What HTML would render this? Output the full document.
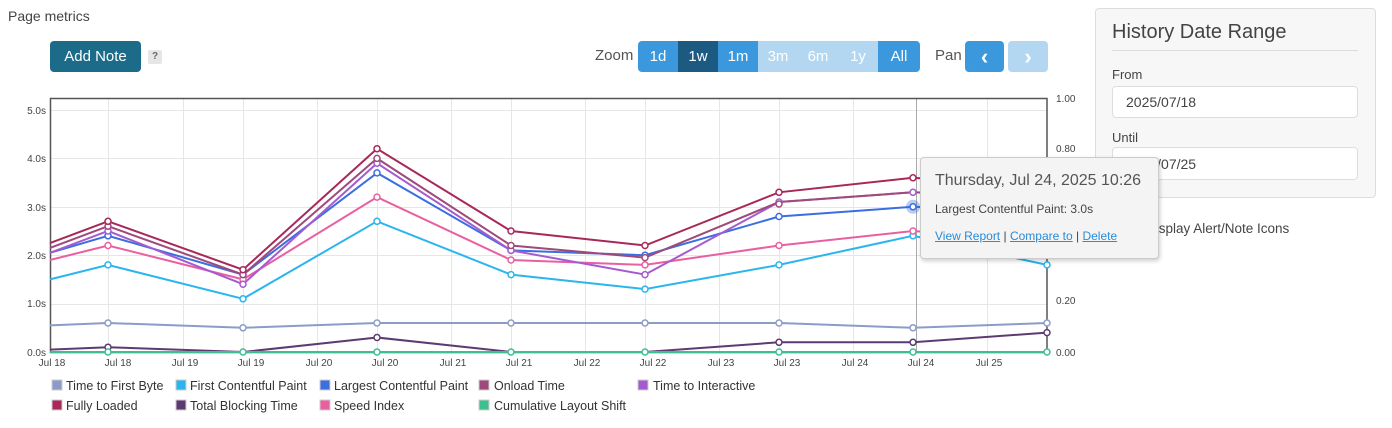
<!DOCTYPE html>
<html><head><meta charset="utf-8"><style>
body{margin:0;width:1392px;height:428px;background:#fff;font-family:"Liberation Sans",sans-serif;position:relative;overflow:hidden;color:#333}
.a{position:absolute}
.btn{position:absolute;top:41px;height:31px;line-height:31px;text-align:center;color:#fff;font-size:15px}
</style></head><body>
<div class="a" style="left:8px;top:8px;font-size:14px;color:#444">Page metrics</div>
<div class="a" style="left:50px;top:41px;width:91px;height:31px;background:#1c6b88;border-radius:4px;color:#fff;font-size:15px;line-height:31px;text-align:center">Add Note</div>
<div class="a" style="left:148px;top:50px;width:14px;height:14px;background:#e6e6e6;border-radius:2px;color:#666;font-size:10px;font-weight:bold;line-height:14px;text-align:center">?</div>
<div class="a" style="left:595px;top:47px;font-size:15px;color:#555">Zoom</div>
<div class="btn" style="left:638px;width:40px;background:#3b98dc;border-radius:4px 0 0 4px">1d</div>
<div class="btn" style="left:678px;width:40px;background:#1d5a82">1w</div>
<div class="btn" style="left:718px;width:40px;background:#3b98dc">1m</div>
<div class="btn" style="left:758px;width:40px;background:#b3d7f0">3m</div>
<div class="btn" style="left:798px;width:40px;background:#b3d7f0">6m</div>
<div class="btn" style="left:838px;width:40px;background:#b3d7f0">1y</div>
<div class="btn" style="left:878px;width:42px;background:#3b98dc;border-radius:0 4px 4px 0">All</div>
<div class="a" style="left:935px;top:47px;font-size:15px;color:#555">Pan</div>
<div class="btn" style="left:965px;width:39px;background:#3b98dc;border-radius:4px;font-size:22px;font-weight:bold">&#8249;</div>
<div class="btn" style="left:1008px;width:40px;background:#b3d7f0;border-radius:4px;font-size:22px;font-weight:bold">&#8250;</div>

<div class="a" style="left:1095px;top:8px;width:279px;height:188px;background:#f7f7f7;border:1px solid #ddd;border-radius:4px"></div>
<div class="a" style="left:1112px;top:21px;font-size:20px;color:#444">History Date Range</div>
<div class="a" style="left:1112px;top:50px;width:246px;height:1px;background:#ddd"></div>
<div class="a" style="left:1112px;top:67px;font-size:13px;color:#444">From</div>
<div class="a" style="left:1112px;top:86px;width:244px;height:30px;background:#fff;border:1px solid #ddd;border-radius:4px"></div>
<div class="a" style="left:1126px;top:94px;font-size:14px;color:#444">2025/07/18</div>
<div class="a" style="left:1112px;top:130px;font-size:13px;color:#444">Until</div>
<div class="a" style="left:1112px;top:147px;width:244px;height:31px;background:#fff;border:1px solid #ddd;border-radius:4px"></div>
<div class="a" style="left:1126px;top:156px;font-size:14px;color:#444">2025/07/25</div>
<div class="a" style="left:1146px;top:221px;font-size:13.5px;color:#444">Display Alert/Note Icons</div>

<svg class="a" style="left:0;top:0" width="1392" height="428" font-family="Liberation Sans, sans-serif">
<g stroke="#e6e6e6" stroke-width="1">
<line x1="50" y1="110.5" x2="1047" y2="110.5"/><line x1="50" y1="158.5" x2="1047" y2="158.5"/><line x1="50" y1="207.5" x2="1047" y2="207.5"/><line x1="50" y1="255.5" x2="1047" y2="255.5"/><line x1="50" y1="304.5" x2="1047" y2="304.5"/>
<line x1="108.5" y1="98" x2="108.5" y2="353"/><line x1="183.5" y1="98" x2="183.5" y2="353"/><line x1="243.5" y1="98" x2="243.5" y2="353"/><line x1="317.5" y1="98" x2="317.5" y2="353"/><line x1="377.5" y1="98" x2="377.5" y2="353"/><line x1="451.5" y1="98" x2="451.5" y2="353"/><line x1="511.5" y1="98" x2="511.5" y2="353"/><line x1="585.5" y1="98" x2="585.5" y2="353"/><line x1="645.5" y1="98" x2="645.5" y2="353"/><line x1="719.5" y1="98" x2="719.5" y2="353"/><line x1="779.5" y1="98" x2="779.5" y2="353"/><line x1="853.5" y1="98" x2="853.5" y2="353"/><line x1="987.5" y1="98" x2="987.5" y2="353"/>
</g>
<line x1="916.5" y1="98" x2="916.5" y2="353" stroke="#aaa"/>
<rect x="50.5" y="98.5" width="996.5" height="254" fill="none" stroke="#555" stroke-width="1.5"/>
<g font-size="10" fill="#444" text-anchor="end">
<text x="46" y="114">5.0s</text><text x="46" y="162">4.0s</text><text x="46" y="211">3.0s</text><text x="46" y="259">2.0s</text><text x="46" y="307">1.0s</text><text x="46" y="356">0.0s</text>
</g>
<g font-size="10" fill="#444">
<text x="1056" y="102">1.00</text><text x="1056" y="152">0.80</text><text x="1056" y="304">0.20</text><text x="1056" y="356">0.00</text>
</g>
<g font-size="10" fill="#444" text-anchor="middle">
<text x="52" y="366">Jul 18</text><text x="118" y="366">Jul 18</text><text x="185" y="366">Jul 19</text><text x="251" y="366">Jul 19</text><text x="319" y="366">Jul 20</text><text x="385" y="366">Jul 20</text><text x="453" y="366">Jul 21</text><text x="519" y="366">Jul 21</text><text x="587" y="366">Jul 22</text><text x="653" y="366">Jul 22</text><text x="721" y="366">Jul 23</text><text x="787" y="366">Jul 23</text><text x="855" y="366">Jul 24</text><text x="921" y="366">Jul 24</text><text x="989" y="366">Jul 25</text>
</g>
<g fill="none" stroke-width="2">
<polyline stroke="#8c9cc8" points="50,325.4 108,323 243,327.8 377,323 511,323 645,323 779,323 913,327.8 1047,323"/>
<polyline stroke="#5e3a72" points="50,349.6 108,347.2 243,352 377,337.5 511,352 645,352 779,342.3 913,342.3 1047,332.6"/>
<polyline stroke="#3fbf8f" points="50,352 108,352 243,352 377,352 511,352 645,352 779,352 913,352 1047,352"/>
<polyline stroke="#2bb5ee" points="50,279.4 108,264.9 243,298.8 377,221.3 511,274.6 645,289.1 779,264.9 913,235.8 1047,264.9"/>
<polyline stroke="#e95fa0" points="50,260 108,245.5 243,279.4 377,197.1 511,260 645,264.9 779,245.5 913,231 1047,240.7"/>
<polyline stroke="#3b6ee0" points="50,252.8 108,235.8 243,274.6 377,172.9 511,250.4 645,255.2 779,216.5 913,206.8 1047,211.6"/>
<polyline stroke="#a55bd0" points="50,252.8 108,231 243,284.2 377,163.2 511,250.4 645,274.6 779,202 913,192.3 1047,197.1"/>
<polyline stroke="#9e4a7a" points="50,247.9 108,226.2 243,274.6 377,158.4 511,245.5 645,257.6 779,202 913,192.3 1047,197.1"/>
<polyline stroke="#a8285a" points="50,243.1 108,221.3 243,269.7 377,148.7 511,231 645,245.5 779,192.3 913,177.8 1047,187.4"/>
</g>
<g fill="#fff" stroke-width="1.5">
<g stroke="#8c9cc8"><circle cx="108" cy="323" r="3"/><circle cx="243" cy="327.8" r="3"/><circle cx="377" cy="323" r="3"/><circle cx="511" cy="323" r="3"/><circle cx="645" cy="323" r="3"/><circle cx="779" cy="323" r="3"/><circle cx="913" cy="327.8" r="3"/><circle cx="1047" cy="323" r="3"/></g>
<g stroke="#5e3a72"><circle cx="108" cy="347.2" r="3"/><circle cx="377" cy="337.5" r="3"/><circle cx="779" cy="342.3" r="3"/><circle cx="913" cy="342.3" r="3"/><circle cx="1047" cy="332.6" r="3"/></g>
<g stroke="#3fbf8f"><circle cx="108" cy="352" r="3"/><circle cx="243" cy="352" r="3"/><circle cx="377" cy="352" r="3"/><circle cx="511" cy="352" r="3"/><circle cx="645" cy="352" r="3"/><circle cx="779" cy="352" r="3"/><circle cx="913" cy="352" r="3"/><circle cx="1047" cy="352" r="3"/></g>
<g stroke="#2bb5ee"><circle cx="108" cy="264.9" r="3"/><circle cx="243" cy="298.8" r="3"/><circle cx="377" cy="221.3" r="3"/><circle cx="511" cy="274.6" r="3"/><circle cx="645" cy="289.1" r="3"/><circle cx="779" cy="264.9" r="3"/><circle cx="913" cy="235.8" r="3"/><circle cx="1047" cy="264.9" r="3"/></g>
<g stroke="#e95fa0"><circle cx="108" cy="245.5" r="3"/><circle cx="243" cy="279.4" r="3"/><circle cx="377" cy="197.1" r="3"/><circle cx="511" cy="260" r="3"/><circle cx="645" cy="264.9" r="3"/><circle cx="779" cy="245.5" r="3"/><circle cx="913" cy="231" r="3"/></g>
<circle cx="913" cy="206.8" r="7" fill="#3b6ee0" fill-opacity="0.35" stroke="none"/>
<g stroke="#3b6ee0"><circle cx="108" cy="235.8" r="3"/><circle cx="243" cy="274.6" r="3"/><circle cx="377" cy="172.9" r="3"/><circle cx="511" cy="250.4" r="3"/><circle cx="645" cy="255.2" r="3"/><circle cx="779" cy="216.5" r="3"/><circle cx="913" cy="206.8" r="3"/></g>
<g stroke="#a55bd0"><circle cx="108" cy="231" r="3"/><circle cx="243" cy="284.2" r="3"/><circle cx="377" cy="163.2" r="3"/><circle cx="511" cy="250.4" r="3"/><circle cx="645" cy="274.6" r="3"/><circle cx="779" cy="202" r="3"/><circle cx="913" cy="192.3" r="3"/></g>
<g stroke="#9e4a7a"><circle cx="108" cy="226.2" r="3"/><circle cx="243" cy="274.6" r="3"/><circle cx="377" cy="158.4" r="3"/><circle cx="511" cy="245.5" r="3"/><circle cx="645" cy="257.6" r="3"/><circle cx="779" cy="204" r="3"/></g>
<g stroke="#a8285a"><circle cx="108" cy="221.3" r="3"/><circle cx="243" cy="269.7" r="3"/><circle cx="377" cy="148.7" r="3"/><circle cx="511" cy="231" r="3"/><circle cx="645" cy="245.5" r="3"/><circle cx="779" cy="192.3" r="3"/><circle cx="913" cy="177.8" r="3"/></g>
</g>
<g font-size="12.5" fill="#333">
<rect x="52" y="380" width="10" height="10" fill="#8c9cc8" stroke="#ccc"/><text x="66" y="390">Time to First Byte</text>
<rect x="176" y="380" width="10" height="10" fill="#2bb5ee" stroke="#ccc"/><text x="190" y="390">First Contentful Paint</text>
<rect x="320" y="380" width="10" height="10" fill="#3b6ee0" stroke="#ccc"/><text x="334" y="390">Largest Contentful Paint</text>
<rect x="479" y="380" width="10" height="10" fill="#9e4a7a" stroke="#ccc"/><text x="494" y="390">Onload Time</text>
<rect x="638" y="380" width="10" height="10" fill="#a55bd0" stroke="#ccc"/><text x="653" y="390">Time to Interactive</text>
<rect x="52" y="400" width="10" height="10" fill="#a8285a" stroke="#ccc"/><text x="66" y="410">Fully Loaded</text>
<rect x="176" y="400" width="10" height="10" fill="#5e3a72" stroke="#ccc"/><text x="190" y="410">Total Blocking Time</text>
<rect x="320" y="400" width="10" height="10" fill="#e95fa0" stroke="#ccc"/><text x="334" y="410">Speed Index</text>
<rect x="479" y="400" width="10" height="10" fill="#3fbf8f" stroke="#ccc"/><text x="494" y="410">Cumulative Layout Shift</text>
</g>
</svg>

<div class="a" style="left:920px;top:157px;width:237px;height:100px;background:#f4f4f4;border:1px solid #ccc;border-radius:4px;box-shadow:1px 2px 4px rgba(0,0,0,0.2)"></div>
<div class="a" style="left:935px;top:172px;font-size:16px;color:#555">Thursday, Jul 24, 2025 10:26</div>
<div class="a" style="left:935px;top:202px;font-size:12px;color:#444">Largest Contentful Paint: 3.0s</div>
<div class="a" style="left:935px;top:229px;font-size:12px;color:#444"><u style="color:#2a8bd6">View Report</u> | <u style="color:#2a8bd6">Compare to</u> | <u style="color:#2a8bd6">Delete</u></div>
</body></html>
